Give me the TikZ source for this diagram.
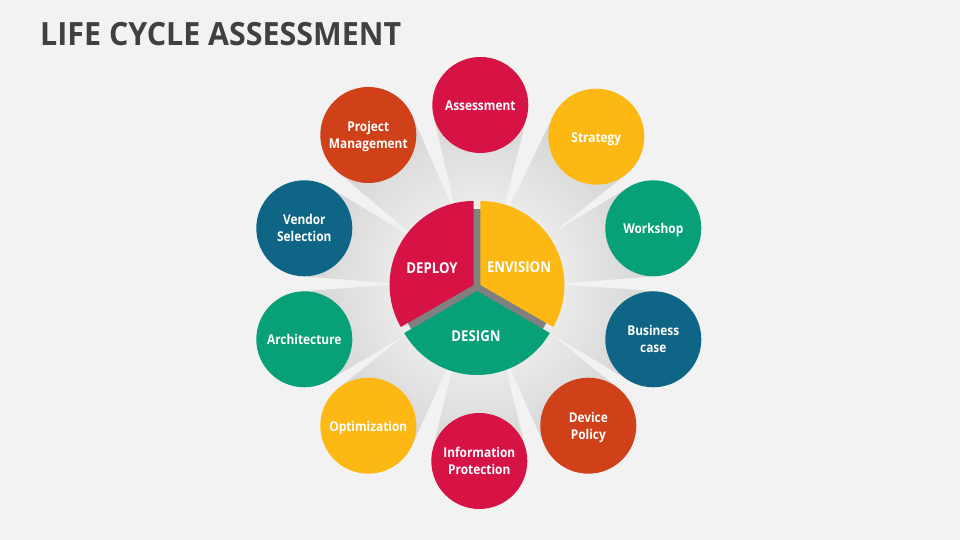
\documentclass[tikz,border=0pt]{standalone}
\usepackage{fontspec}
\setmainfont{Open Sans}[FakeStretch=0.88]
\newfontfamily\titlefont{Open Sans}[FakeStretch=0.95]
\usetikzlibrary{calc}
\definecolor{bgc}{HTML}{F2F2F2}
\definecolor{cred}{HTML}{D61344}
\definecolor{corange}{HTML}{D04019}
\definecolor{cyellow}{HTML}{FDB813}
\definecolor{cgreen}{HTML}{07A077}
\definecolor{cblue}{HTML}{0F6585}
\definecolor{ctitle}{HTML}{404040}
\definecolor{cdisk}{HTML}{808080}
\definecolor{bone}{HTML}{D8D8D8}
\definecolor{btwo}{HTML}{C9C9C9}
\definecolor{bthree}{HTML}{BDBDBD}
\pgfdeclareradialshading{beamshade}{\pgfpoint{0bp}{0bp}}{color(0bp)=(white); color(20bp)=(bone); color(27bp)=(btwo); color(43bp)=(bthree); color(50bp)=(bthree)}
\begin{document}
\begin{tikzpicture}[x=1pt,y=1pt,
  bubble/.style={circle, minimum size=96pt, inner sep=0pt, text=white,
    font=\bfseries\fontsize{13.5}{17}\selectfont, align=center, text depth=-2pt},
  oneline/.style={text height=11pt, text depth=0pt},
  seglabel/.style={text=white, inner sep=0pt, font=\bfseries\fontsize{15}{18}\selectfont}]
\fill[bgc] (0,0) rectangle (960,540);
\useasboundingbox (0,0) rectangle (960,540);
\node[anchor=base west, text=ctitle, inner sep=0pt,
  font=\titlefont\bfseries\fontsize{32}{36}\selectfont] (title) at (40,494.3) {LIFE CYCLE ASSESSMENT};
% hubs
\coordinate (B) at (479,256);
\coordinate (C) at (477,253);
% bubble centres
\coordinate (pa) at (480.3,435);
\coordinate (pb) at (596.3,403.3);
\coordinate (pc) at (653.3,311.7);
\coordinate (pd) at (653.3,200.7);
\coordinate (pe) at (588.3,114.3);
\coordinate (pf) at (479.3,79);
\coordinate (pg) at (368.3,114.3);
\coordinate (ph) at (304.3,200.7);
\coordinate (pi) at (304.3,311.7);
\coordinate (pj) at (368.3,405);
% beams
\begin{scope}
\clip \foreach \p in {pa,pb,pc,pd,pe,pf,pg,ph,pi,pj} {
  ($(B)!6pt!-90:(\p)$) -- ($(\p)!48pt!75:(B)$) -- (\p) -- ($(\p)!48pt!-75:(B)$) -- ($(B)!6pt!90:(\p)$) -- cycle};
\shade[shading=beamshade] (B) circle[radius=200];
\end{scope}
% wheel
\fill[cdisk] (C) circle[radius=78];
\fill[cred] ($(C)+(150:4)$) -- +(90:84) arc[start angle=90,end angle=210,radius=84] -- cycle;
\fill[cyellow] ($(C)+(30:4)$) -- +(-30:84) arc[start angle=-30,end angle=90,radius=84] -- cycle;
\fill[cgreen] ($(C)+(270:4)$) -- +(210:84) arc[start angle=210,end angle=330,radius=84] -- cycle;
\node[seglabel] (deploy) at (432,272) {DEPLOY};
\node[seglabel] (envision) at (519,273) {ENVISION};
\node[seglabel] (design) at (476,204) {DESIGN};
% bubbles
\node[bubble, oneline, fill=cred] (assess) at (pa) {Assessment};
\node[bubble, oneline, fill=cyellow] (strategy) at (pb) {Strategy};
\node[bubble, oneline, fill=cgreen] (workshop) at (pc) {Workshop};
\node[bubble, fill=cblue] (business) at (pd) {Business\\case};
\node[bubble, fill=corange] (device) at (pe) {Device\\Policy};
\node[bubble, fill=cred] (info) at (pf) {Information\\Protection};
\node[bubble, oneline, fill=cyellow] (optim) at (pg) {Optimization};
\node[bubble, oneline, fill=cgreen] (arch) at (ph) {Architecture};
\node[bubble, fill=cblue] (vendor) at (pi) {Vendor\\Selection};
\node[bubble, fill=corange] (pm) at (pj) {Project\\Management};
\end{tikzpicture}
\end{document}
